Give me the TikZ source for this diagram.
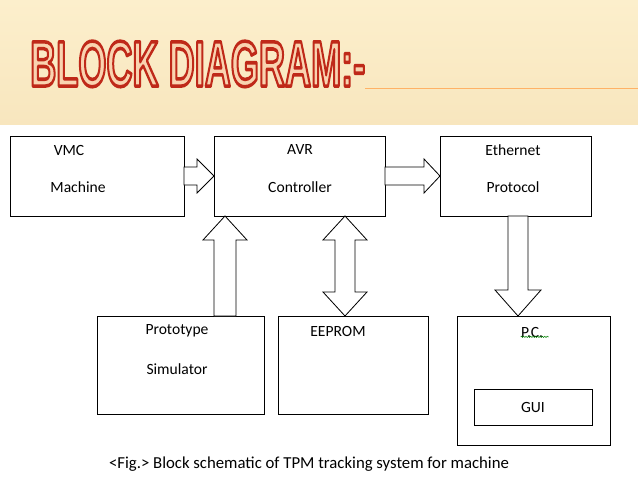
\documentclass[tikz,border=0pt]{standalone}
\usepackage{fontspec}
\setmainfont{Carlito}
\newfontfamily\titlefont{Liberation Sans Bold}
\usetikzlibrary{decorations.pathmorphing}
\definecolor{band}{HTML}{FCEFCC}
\definecolor{band2}{HTML}{F8E6BE}
\definecolor{ttlfill}{HTML}{F9D3B0}
\tikzset{
 blk/.style={draw, line width=0.7pt},
 lbl/.style={font=\fontsize{13.3}{15}\selectfont, inner sep=0pt},
 barrow/.style={draw, fill=white, line width=0.7pt, line join=miter},
}
\newcommand\harr[5]{% x1 x2 ycenter headstart halfshaft
 \draw[barrow] (#1,#3-#5) -- (#4,#3-#5) -- (#4,#3-17) -- (#2,#3) -- (#4,#3+17) -- (#4,#3+#5) -- (#1,#3+#5) -- cycle;}
\begin{document}
\begin{tikzpicture}[x=0.03cm,y=-0.03cm]
\useasboundingbox (0,0) rectangle (638,479);
\fill[white] (0,0) rectangle (638,479);
\shade[top color=band, bottom color=band2] (0,0) rectangle (638,125);
\draw[orange!60, line width=0.4pt] (365,88) -- (638,88);
\node[anchor=south west, inner sep=0pt, text=ttlfill] (title) at (30,87)
 {\resizebox{10.05cm}{1.35cm}{\titlefont\special{pdf:code 2 Tr 1 j 0.55 w 0.75 0.16 0.1 RG}BLOCK DIAGRAM:-\special{pdf:code 0 Tr}}};
% boxes
\node[blk, minimum width=174*0.03cm, minimum height=80*0.03cm, inner sep=0pt] (vmc) at (97,176) {};
\node[blk, minimum width=171*0.03cm, minimum height=80*0.03cm, inner sep=0pt] (avr) at (299.5,176) {};
\node[blk, minimum width=151*0.03cm, minimum height=80*0.03cm, inner sep=0pt] (eth) at (515.5,176) {};
\node[blk, minimum width=167*0.03cm, minimum height=98*0.03cm, inner sep=0pt] (proto) at (180.5,365) {};
\node[blk, minimum width=150*0.03cm, minimum height=98*0.03cm, inner sep=0pt] (eep) at (353,365) {};
\node[blk, minimum width=153*0.03cm, minimum height=129*0.03cm, inner sep=0pt] (pc) at (533.5,380.5) {};
\node[blk, minimum width=118*0.03cm, minimum height=36*0.03cm, inner sep=0pt] (gui) at (533,407) {};
% labels
\node[lbl] (t1) at (69,150) {VMC};
\node[lbl] (t2) at (78,187) {Machine};
\node[lbl] (t3) at (300,150) {AVR};
\node[lbl] (t4) at (300,187) {Controller};
\node[lbl] (t5) at (513,150) {Ethernet};
\node[lbl] (t6) at (513,187) {Protocol};
\node[lbl] (t7) at (177,331) {Prototype};
\node[lbl] (t8) at (177,369) {Simulator};
\node[lbl] (t9) at (338,331) {EEPROM};
\node[lbl] (t10) at (532,333) {P.C.};
\draw[green!50!black, line width=0.4pt, decorate, decoration={zigzag, amplitude=0.6pt, segment length=2pt}] (t10.south west)++(0,-1.5) -- ++(28,0);
\node[lbl] (t11) at (533,407) {GUI};
\node[lbl, font=\fontsize{14.3}{16}\selectfont] (cap) at (309,464) {<Fig.> Block schematic of TPM tracking system for machine};
% block arrows
\harr{184}{214}{176}{197}{9}
\harr{385}{440}{176}{424}{9}
\draw[barrow] (214,316) -- (214,240) -- (203,240) -- (225,216) -- (247,240) -- (236,240) -- (236,316) -- cycle;
\draw[barrow] (335,240) -- (323,240) -- (345,216) -- (367,240) -- (355,240) -- (355,292) -- (367,292) -- (345,316) -- (323,292) -- (335,292) -- cycle;
\draw[barrow] (508,216) -- (508,290) -- (495,290) -- (518,316) -- (541,290) -- (528,290) -- (528,216) -- cycle;
\end{tikzpicture}
\end{document}
